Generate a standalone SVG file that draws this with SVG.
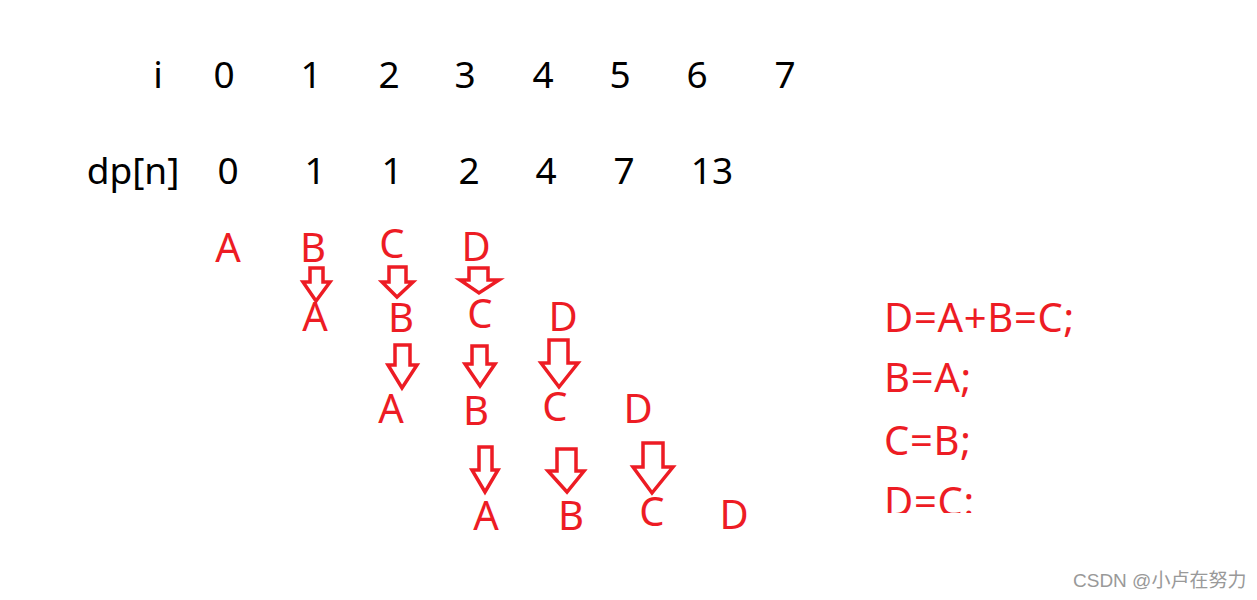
<svg xmlns="http://www.w3.org/2000/svg" width="1257" height="600" viewBox="0 0 1257 600">
<style>
.k{font-family:"Noto Sans","Open Sans",sans-serif;font-size:37px;fill:#000;text-anchor:middle}
.r{font-family:"Noto Sans","Open Sans",sans-serif;font-size:40px;fill:#ED1C24;text-anchor:middle}
.eq{font-family:"Noto Sans","Open Sans",sans-serif;font-size:40px;fill:#ED1C24;letter-spacing:0.7px}
.arr{fill:#fff;stroke:#ED1C24;stroke-width:3.5;stroke-linejoin:miter}
.wm{font-family:"Liberation Sans","Noto Sans CJK SC",sans-serif;font-size:19px;fill:#999}
</style>
<defs>
<clipPath id="clipEq"><rect x="860" y="470" width="300" height="43"/></clipPath>
</defs>
<rect width="1257" height="600" fill="#fff"/>
<g id="row-i">
<text class="k" x="158" y="88">i</text>
<text class="k" x="224" y="88">0</text>
<text class="k" x="311" y="88">1</text>
<text class="k" x="389" y="88">2</text>
<text class="k" x="465" y="88">3</text>
<text class="k" x="543" y="88">4</text>
<text class="k" x="620" y="88">5</text>
<text class="k" x="697" y="88">6</text>
<text class="k" x="785" y="88">7</text>
</g>
<g id="row-dp">
<text class="k" x="133" y="184">dp[n]</text>
<text class="k" x="228" y="184">0</text>
<text class="k" x="315" y="184">1</text>
<text class="k" x="392" y="184">1</text>
<text class="k" x="469" y="184">2</text>
<text class="k" x="546" y="184">4</text>
<text class="k" x="624" y="184">7</text>
<text class="k" x="712" y="184">13</text>
</g>
<g id="step1">
<text class="r" x="228" y="262">A</text>
<text class="r" x="313" y="262">B</text>
<text class="r" x="392" y="258">C</text>
<text class="r" x="476" y="261">D</text>
</g>
<g id="step2">
<text class="r" x="315" y="331">A</text>
<text class="r" x="401" y="332">B</text>
<text class="r" x="480" y="328">C</text>
<text class="r" x="563" y="331">D</text>
</g>
<g id="step3">
<text class="r" x="391" y="423">A</text>
<text class="r" x="476" y="425">B</text>
<text class="r" x="555" y="421">C</text>
<text class="r" x="638" y="423">D</text>
</g>
<g id="step4">
<text class="r" x="486" y="530">A</text>
<text class="r" x="571" y="530">B</text>
<text class="r" x="652" y="526">C</text>
<text class="r" x="734" y="529">D</text>
</g>
<g id="connectors">
<polygon class="arr" points="310,268 323,268 323,282 330,282 316,301 303,282 310,282"/>
<polygon class="arr" points="389,267 406,267 406,282 413,282 397,297 382,282 389,282"/>
<polygon class="arr" points="469,268 488,268 488,280 499,280 479,293 460,280 469,280"/>
<polygon class="arr" points="395,345 410,345 410,365 417,365 402,388 388,365 395,365"/>
<polygon class="arr" points="472,346 487,346 487,364 495,364 480,386 465,364 472,364"/>
<polygon class="arr" points="549,340 568,340 568,363 578,363 559,387 541,363 549,363"/>
<polygon class="arr" points="479,447 492,447 492,470 498,470 485,492 472,470 479,470"/>
<polygon class="arr" points="557,449 576,449 576,471 584,471 567,492 548,471 557,471"/>
<polygon class="arr" points="643,443 663,443 663,467 673,467 652,493 633,467 643,467"/>
</g>
<g id="equations">
<text class="eq" x="884" y="332">D=A+B=C;</text>
<text class="eq" x="884" y="392">B=A;</text>
<text class="eq" x="884" y="455">C=B;</text>
<text class="eq" x="884" y="516" clip-path="url(#clipEq)">D=C:</text>
</g>
<text class="wm" x="1073" y="587">CSDN @小卢在努力</text>
</svg>
